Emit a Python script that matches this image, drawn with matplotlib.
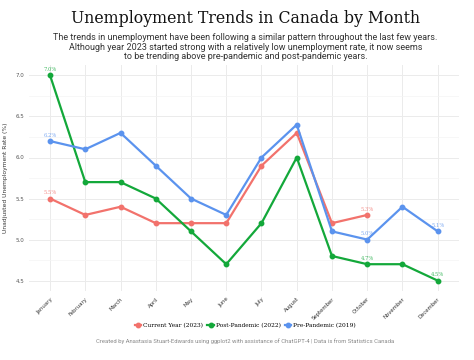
import matplotlib.pyplot as plt
import numpy as np

months = ['January', 'February', 'March', 'April', 'May', 'June', 'July',
          'August', 'September', 'October', 'November', 'December']

current_2023 = [5.5, 5.3, 5.4, 5.2, 5.2, 5.2, 5.9, 6.3, 5.2, 5.3]
post_2022 = [7.0, 5.7, 5.7, 5.5, 5.1, 4.7, 5.2, 6.0, 4.8, 4.7, 4.7, 4.5]
pre_2019 = [6.2, 6.1, 6.3, 5.9, 5.5, 5.3, 6.0, 6.4, 5.1, 5.0, 5.4, 5.1]

series = [
    ('Current Year (2023)', current_2023, '#F2726C', [0, 9]),
    ('Post-Pandemic (2022)', post_2022, '#13A83A', [0, 9, 11]),
    ('Pre-Pandemic (2019)', pre_2019, '#5B93EE', [0, 9, 11]),
]

fig = plt.figure(figsize=(4.74, 3.6), dpi=100)
ax = fig.add_axes([0.061, 0.192, 0.907, 0.627])

for name, vals, col, lab_idx in series:
    x = np.arange(len(vals))
    ax.plot(x, vals, color=col, lw=1.6, marker='o', ms=3.2, label=name,
            solid_joinstyle='round')
    for i in lab_idx:
        ax.text(x[i], vals[i] + 0.04, f'{vals[i]:.1f}%', color=col,
                fontsize=3.8, ha='center', va='bottom', family='DejaVu Serif',
                alpha=0.8)

ax.set_xlim(-0.6, 11.6)
ax.set_ylim(4.375, 7.125)
ax.set_xticks(np.arange(12))
ax.set_xticklabels(months, rotation=45, ha='right', rotation_mode='anchor',
                   fontsize=3.9, color='#333333')
ax.set_yticks([4.5, 5.0, 5.5, 6.0, 6.5, 7.0])
ax.set_yticklabels(['4.5', '5.0', '5.5', '6.0', '6.5', '7.0'], fontsize=4, color='#555555')
ax.set_yticks([4.75, 5.25, 5.75, 6.25, 6.75], minor=True)
ax.tick_params(length=0, pad=3)
ax.tick_params(axis='x', pad=4)
ax.tick_params(which='minor', length=0)
ax.grid(True, which='major', color='#EBEBEB', lw=0.7)
ax.grid(True, which='minor', axis='y', color='#F4F4F4', lw=0.5)
ax.set_axisbelow(True)
for s in ax.spines.values():
    s.set_visible(False)
ax.set_ylabel('Unadjusted Unemployment Rate (%)', fontsize=4.3, color='#333333', labelpad=6)

fig.text(0.518, 0.948, 'Unemployment Trends in Canada by Month', ha='center', va='center',
         fontsize=11.3, family='DejaVu Serif', color='#111111')
fig.text(0.518, 0.869,
         'The trends in unemployment have been following a similar pattern throughout the last few years.\n'
         'Although year 2023 started strong with a relatively low unemployment rate, it now seems\n'
         'to be trending above pre-pandemic and post-pandemic years.',
         ha='center', va='center', fontsize=6.5, family='Roboto', color='#333333',
         linespacing=1.1)

leg = fig.legend(loc='center', bbox_to_anchor=(0.518, 0.097), ncol=3, frameon=False,
                 prop={'family': 'DejaVu Serif', 'size': 4.2},
                 handlelength=1.1, columnspacing=0.7, handletextpad=0.35)
fig.text(0.518, 0.052,
         'Created by Anastasia Stuart-Edwards using ggplot2 with assistance of ChatGPT-4 | Data is from Statistics Canada',
         ha='center', va='center', fontsize=4.2, family='Roboto', color='#888888')

fig.savefig('out.png', dpi=100)
